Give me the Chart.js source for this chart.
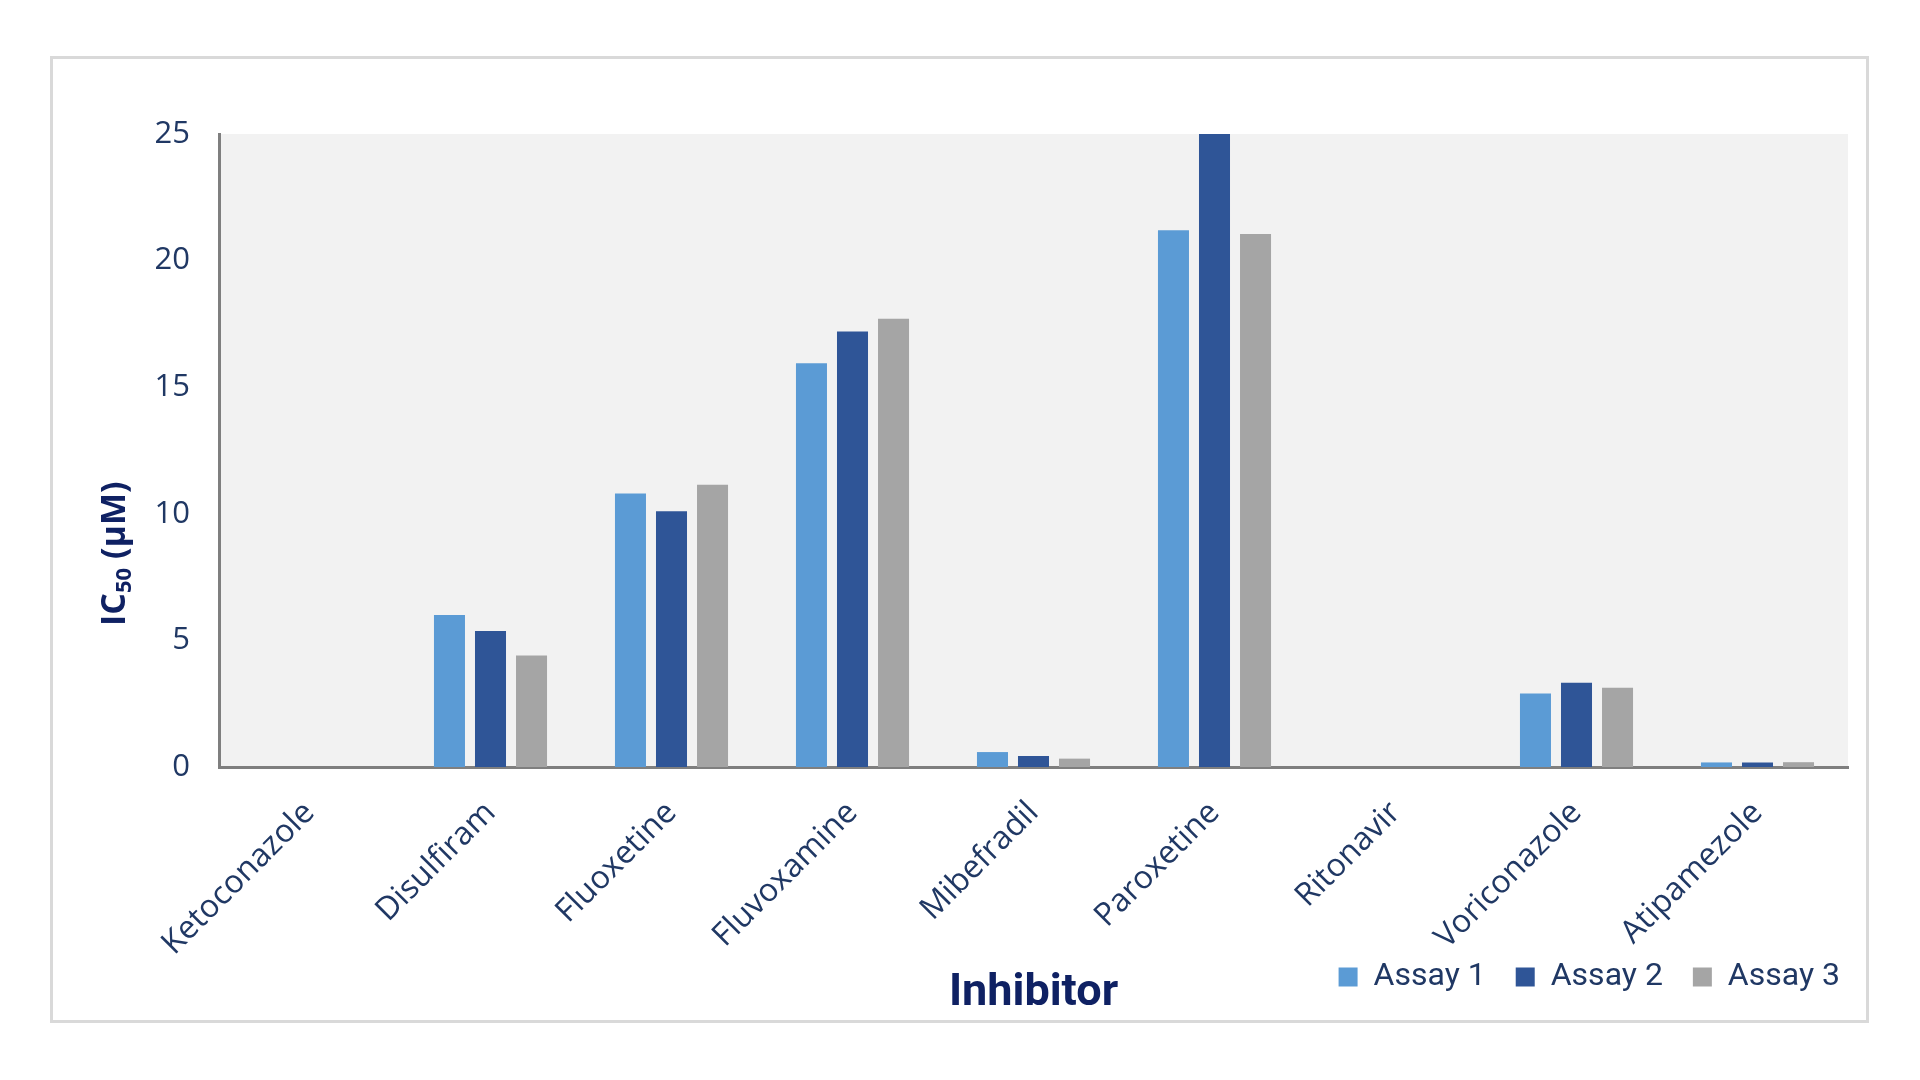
<!DOCTYPE html>
<html>
<head>
<meta charset="utf-8">
<script src="https://cdn.jsdelivr.net/npm/chart.js@4.4.1/dist/chart.umd.min.js"></script>
<style>
  html, body { margin: 0; padding: 0; background: #fff; }
  #frame {
    position: absolute; left: 50px; top: 56px;
    width: 1813px; height: 961px;
    border: 3px solid #d9d9d9;
  }
</style>
</head>
<body>
<div id="frame"><canvas id="myChart"></canvas></div>
<script>
// inhibitors on the x axis
const inhibitors = ['Ketoconazole', 'Disulfiram', 'Fluoxetine', 'Fluvoxamine', 'Mibefradil',
  'Paroxetine', 'Ritonavir', 'Voriconazole', 'Atipamezole'];

// IC50 values (µM)
const assay1 = [0, 6.0, 10.8, 15.95, 0.59, 21.2, 0, 2.9, 0.18];
const assay2 = [0, 5.37, 10.1, 17.2, 0.43, 25.0, 0, 3.33, 0.18];
const assay3 = [0, 4.4, 11.15, 17.7, 0.33, 21.05, 0, 3.13, 0.19];

const yTicks = [0, 5, 10, 15, 20, 25];

const navy = '#203864';
const darkNavy = '#0f2163';

// grey plot background + axis titles (IC50 has a subscript, so drawn by hand)
const decor = {
  id: 'decor',
  beforeDraw(chart) {
    const { ctx, chartArea: a } = chart;
    ctx.save();
    ctx.fillStyle = '#f2f2f2';
    ctx.fillRect(a.left, a.top, a.right - a.left, a.bottom - a.top);
    ctx.restore();
  },
  afterDraw(chart) {
    const { ctx, chartArea: a } = chart;
    ctx.save();
    // x title
    ctx.fillStyle = darkNavy;
    ctx.font = 'bold 45px Roboto, sans-serif';
    ctx.textAlign = 'center';
    ctx.textBaseline = 'alphabetic';
    ctx.fillText('Inhibitor', (a.left + a.right) / 2, a.bottom + 238);

    // y title, rotated
    const big = 'bold 34px "Open Sans", sans-serif';
    const small = 'bold 22px "Open Sans", sans-serif';
    ctx.font = big;
    const w1 = ctx.measureText('IC').width;
    const w3 = ctx.measureText(' (µM)').width;
    ctx.font = small;
    const w2 = ctx.measureText('50').width;
    const total = w1 + w2 + w3;
    ctx.translate(a.left - 94, a.top + (a.bottom - a.top) * 0.663);
    ctx.rotate(-Math.PI / 2);
    ctx.textAlign = 'left';
    let x = -total / 2;
    ctx.font = big;
    ctx.fillText('IC', x, 0);
    x += w1;
    ctx.font = small;
    ctx.fillText('50', x, 6);
    x += w2;
    ctx.font = big;
    ctx.fillText(' (µM)', x, 0);
    ctx.restore();
  }
};

// the legend shares a row with the x title in the original: move it there
const legendPlace = {
  id: 'legendPlace',
  afterLayout(chart) {
    const lg = chart.legend;
    if (!lg) return;
    const h = 76;
    lg.left += 22;
    lg.right += 22;
    lg.top = chart.chartArea.bottom + 164;
    lg.bottom = lg.top + h;
    lg.height = h;
  }
};

const ctx = document.getElementById('myChart').getContext('2d');
new Chart(ctx, {
  type: 'bar',
  data: {
    labels: inhibitors,
    datasets: [
      { label: 'Assay 1', data: assay1, backgroundColor: '#5b9bd5' },
      { label: 'Assay 2', data: assay2, backgroundColor: '#2f5597' },
      { label: 'Assay 3', data: assay3, backgroundColor: '#a5a5a5' }
    ]
  },
  options: {
    responsive: true,
    maintainAspectRatio: false,
    animation: false,
    events: [],
    layout: { padding: { top: 75, right: 18, bottom: 0, left: 0 } },
    datasets: {
      bar: { categoryPercentage: 0.68, barPercentage: 0.756 }
    },
    plugins: {
      tooltip: { enabled: false },
      legend: {
        position: 'bottom',
        align: 'end',
        maxHeight: 1,
        labels: {
          boxWidth: 19,
          boxHeight: 19,
          padding: 30,
          color: navy,
          font: { family: 'Roboto, sans-serif', size: 32 }
        }
      }
    },
    scales: {
      x: {
        type: 'category',
        grid: { display: false, drawTicks: false },
        border: { display: true, color: '#7f7f7f', width: 3 },
        ticks: {
          autoSkip: false,
          minRotation: 45,
          maxRotation: 45,
          padding: 27,
          color: navy,
          font: { family: '"Open Sans", sans-serif', size: 32 }
        },
        afterFit(scale) { scale.height = 252; }
      },
      y: {
        type: 'linear',
        min: yTicks[0],
        max: yTicks[yTicks.length - 1],
        grid: { display: false, drawTicks: false },
        border: { display: true, color: '#7f7f7f', width: 3 },
        afterBuildTicks(scale) { scale.ticks = yTicks.map(v => ({ value: v })); },
        ticks: {
          padding: 29,
          color: navy,
          font: { family: '"Open Sans", sans-serif', size: 31 }
        },
        afterFit(scale) { scale.width = 166; }
      }
    }
  },
  plugins: [decor, legendPlace]
});
</script>
</body>
</html>
